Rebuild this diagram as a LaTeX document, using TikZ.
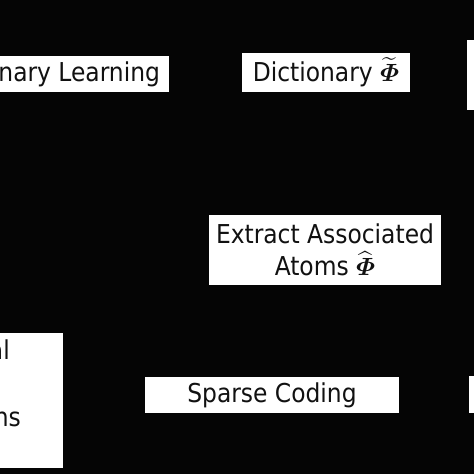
\documentclass[tikz,border=0pt]{standalone}
\usepackage{amsmath}
\usepackage{fontspec}
\setmainfont{DejaVu Sans Condensed}
\definecolor{Backdrop}{HTML}{050505}
\definecolor{Panel}{HTML}{FFFFFF}
\definecolor{Ink}{HTML}{111111}
\newcommand{\bigphi}[1]{{\fontsize{30}{32}\selectfont$#1{\boldsymbol{\varPhi}}$}}
\tikzset{panel/.style={rectangle,fill=Panel,draw=none,inner sep=0pt,align=center,text=Ink},cut/.style={inner sep=0pt,anchor=base east,text=Ink}}

\begin{document}
\begin{tikzpicture}[x=1pt,y=-1pt,font=\fontsize{26}{32}\selectfont]
\useasboundingbox (0,0) rectangle (474,474);
\clip (0,0) rectangle (474,474);
\fill[Backdrop] (0,0) rectangle (474,474);
\node[panel,minimum width=247pt,minimum height=36pt] (learn) at (45.5,74) {Dictionary Learning};
\node[panel,minimum width=168pt,minimum height=39pt] (dict) at (326,72.5) {Dictionary \bigphi{\widetilde}};
\node[panel,minimum width=100pt,minimum height=70pt] (topright) at (517,75) {};
\node[panel,minimum width=232pt,minimum height=70pt] (extract) at (325,250) {Extract Associated\\Atoms \bigphi{\widehat}};
\node[panel,minimum width=123pt,minimum height=135pt] (signal) at (1.5,400.5) {};
\node[cut] (signaltop) at (10,359) {al};
\node[cut] (signalbot) at (21,426) {ns};
\node[panel,minimum width=254pt,minimum height=36pt] (sparse) at (272,395) {Sparse Coding};
\node[panel,minimum width=100pt,minimum height=37pt] (botright) at (519,394.5) {};
\end{tikzpicture}
\end{document}
